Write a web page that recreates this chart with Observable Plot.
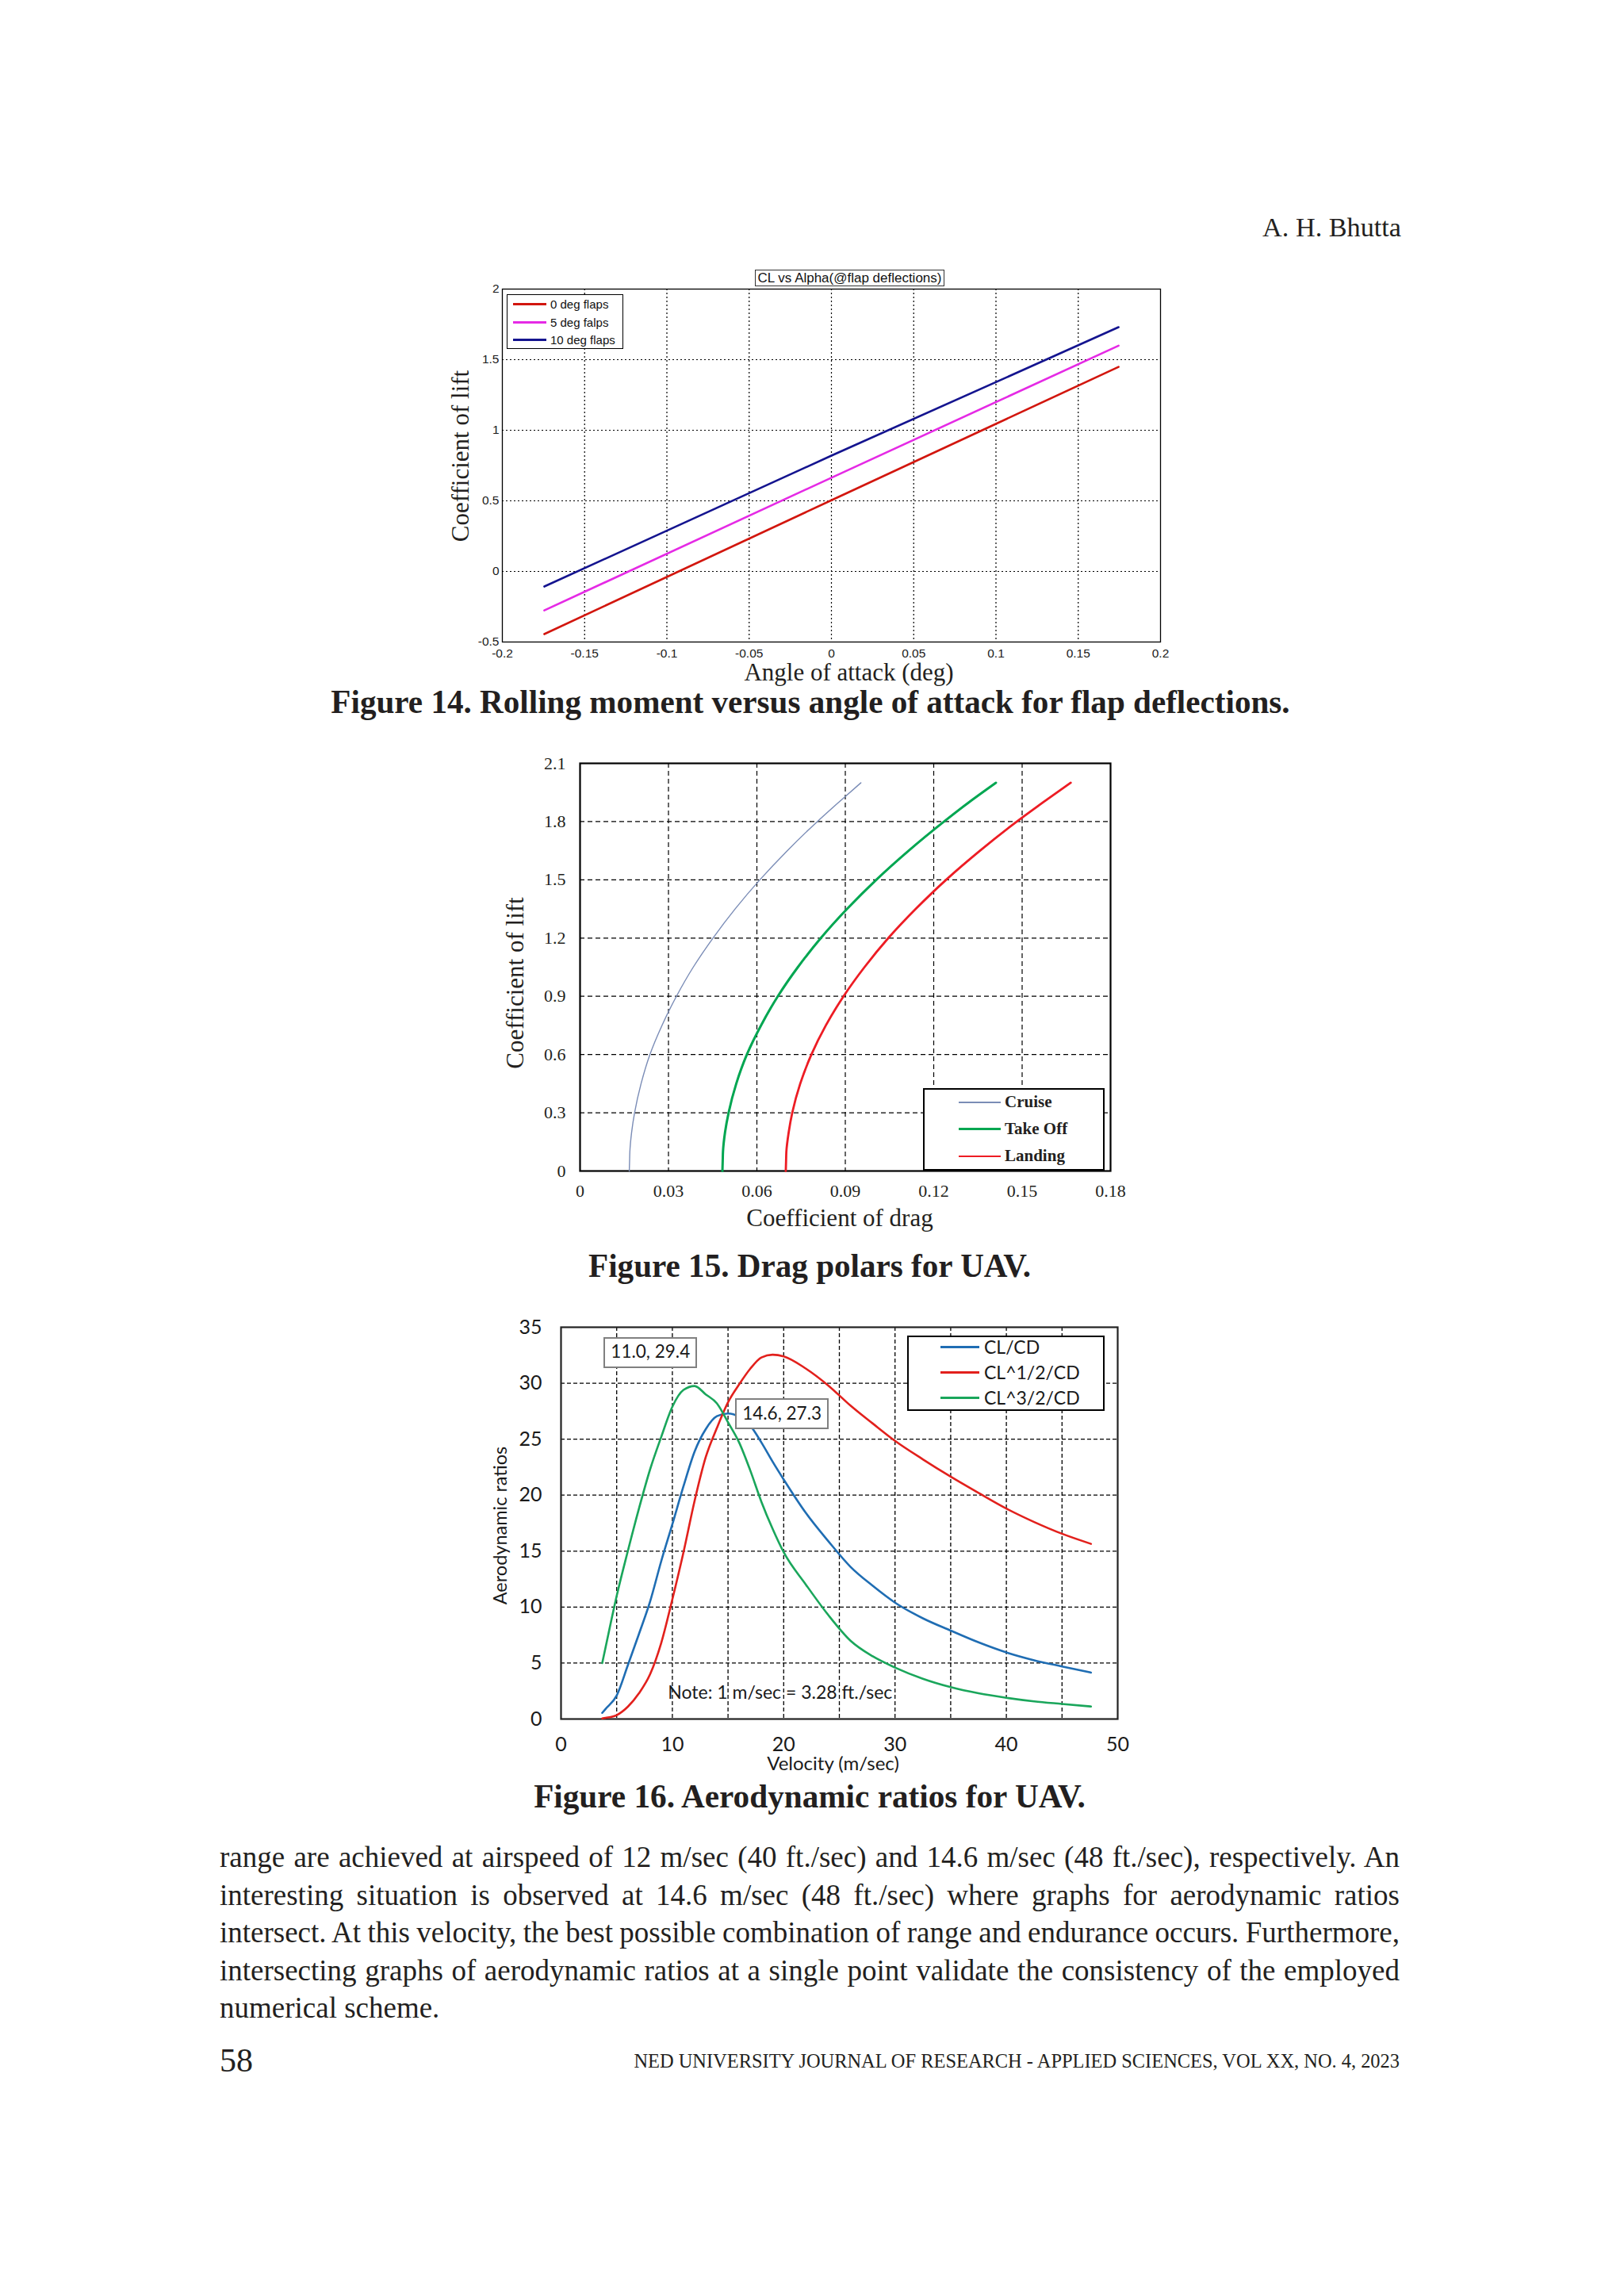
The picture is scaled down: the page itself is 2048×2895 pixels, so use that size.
<!DOCTYPE html>
<html>
<head>
<meta charset="utf-8">
<script src="https://cdn.jsdelivr.net/npm/d3@7"></script>
<script src="https://cdn.jsdelivr.net/npm/@observablehq/plot@0.6"></script>
<style>
html, body { margin: 0; padding: 0; background: #fff; }
#page { position: relative; width: 2048px; height: 2895px; background: #fff; overflow: hidden; }
.abs { position: absolute; white-space: nowrap; line-height: 1; }
.plotbox { position: absolute; }
</style>
</head>
<body>
<div id="page"></div>
<script>
// ================= Figure 14 : CL vs alpha for flap deflections =================
const fig14Series = ["0 deg flaps", "5 deg falps", "10 deg flaps"];
const fig14Colors = ["#d2160e", "#e52ae5", "#14148f"];
const fig14Alpha = [-0.1745, 0, 0.1745];
const fig14CL0 = [-0.444, 0.504, 1.449];
const fig14CL5 = [-0.276, 0.664, 1.599];
const fig14CL10 = [-0.107, 0.820, 1.730];
const fig14XTicks = [-0.2, -0.15, -0.1, -0.05, 0, 0.05, 0.1, 0.15, 0.2];
const fig14YTicks = [-0.5, 0, 0.5, 1, 1.5, 2];
const fig14Title = "CL vs Alpha(@flap deflections)";
const fig14XLabel = "Angle of attack (deg)";
const fig14YLabel = "Coefficient of lift";

// ================= Figure 15 : drag polars =================
const fig15Series = ["Cruise", "Take Off", "Landing"];
const fig15Colors = ["#7a8cb6", "#00a651", "#ed1c24"];
const fig15CL = [0, 0.05, 0.1, 0.2, 0.3, 0.45, 0.6, 0.75, 0.9, 1.05, 1.2, 1.35, 1.5, 1.65, 1.8, 1.9, 2.0];
const fig15CDCruise = [0.0167, 0.0168, 0.0169, 0.0175, 0.0185, 0.0207, 0.0237, 0.0278, 0.0327, 0.0384, 0.0451, 0.0526, 0.0610, 0.0703, 0.0805, 0.0878, 0.0953];
const fig15CDTakeOff = [0.0483, 0.0484, 0.0485, 0.0492, 0.0504, 0.0530, 0.0566, 0.0614, 0.0671, 0.0739, 0.0817, 0.0906, 0.1005, 0.1115, 0.1235, 0.1320, 0.1411];
const fig15CDLanding = [0.0698, 0.0699, 0.0700, 0.0708, 0.0720, 0.0747, 0.0785, 0.0834, 0.0894, 0.0965, 0.1046, 0.1139, 0.1242, 0.1357, 0.1482, 0.1572, 0.1665];
const fig15XTicks = [0, 0.03, 0.06, 0.09, 0.12, 0.15, 0.18];
const fig15YTicks = [0, 0.3, 0.6, 0.9, 1.2, 1.5, 1.8, 2.1];
const fig15XLabel = "Coefficient of drag";
const fig15YLabel = "Coefficient of lift";

// ================= Figure 16 : aerodynamic ratios =================
const fig16Series = ["CL/CD", "CL^1/2/CD", "CL^3/2/CD"];
const fig16Colors = ["#1f6db3", "#e2201c", "#1aa65b"];
const fig16V = [3.7, 4, 5, 6, 7, 8, 9, 10, 11, 12, 13, 14, 15, 16, 17, 18, 19, 20, 22, 24, 26, 28, 30, 32.5, 35, 37.5, 40, 42.5, 45, 47.6];
const fig16ClCd = [0.55, 0.9, 2.1, 4.8, 7.6, 10.5, 14.1, 17.4, 20.8, 23.9, 25.9, 27.05, 27.3, 27.0, 26.2, 24.7, 23.0, 21.4, 18.4, 15.9, 13.6, 11.9, 10.4, 9.0, 7.9, 6.85, 5.95, 5.25, 4.7, 4.15];
const fig16Cl12Cd = [0.05, 0.1, 0.35, 1.1, 2.3, 4.0, 6.8, 10.7, 14.9, 19.5, 23.4, 26.0, 28.3, 29.9, 31.3, 32.3, 32.55, 32.4, 31.3, 29.8, 28.0, 26.4, 24.85, 23.2, 21.65, 20.2, 18.8, 17.6, 16.55, 15.65];
const fig16Cl32Cd = [5.0, 6.4, 11.0, 15.0, 18.8, 22.3, 25.2, 27.9, 29.4, 29.75, 29.0, 28.2, 26.5, 24.7, 22.2, 19.4, 17.0, 14.9, 12.0, 9.3, 7.0, 5.6, 4.6, 3.6, 2.85, 2.3, 1.9, 1.58, 1.35, 1.12];
const fig16XTicks = [0, 10, 20, 30, 40, 50];
const fig16YTicks = [0, 5, 10, 15, 20, 25, 30, 35];
const fig16GridX = [5, 10, 15, 20, 25, 30, 35, 40, 45];
const fig16GridY = [5, 10, 15, 20, 25, 30];
const fig16XLabel = "Velocity (m/sec)";
const fig16YLabel = "Aerodynamic ratios";
const fig16Callouts = ["11.0, 29.4", "14.6, 27.3"];
const fig16CalloutX = [8.07, 19.88];
const fig16CalloutY = [32.72, 27.25];
const fig16Note = ["Note: 1 m/sec = 3.28 ft./sec"];
const fig16NoteX = [9.6];
const fig16NoteY = [2.32];

// ================= Page text =================
const headerText = "A. H. Bhutta";
const caption14 = "Figure 14. Rolling moment versus angle of attack for flap deflections.";
const caption15 = "Figure 15. Drag polars for UAV.";
const caption16 = "Figure 16. Aerodynamic ratios for UAV.";
const bodyLines = [
  "range are achieved at airspeed of 12 m/sec (40 ft./sec) and 14.6 m/sec (48 ft./sec), respectively. An",
  "interesting situation is observed at 14.6 m/sec (48 ft./sec) where graphs for aerodynamic ratios",
  "intersect. At this velocity, the best possible combination of range and endurance occurs. Furthermore,",
  "intersecting graphs of aerodynamic ratios at a single point validate the consistency of the employed",
  "numerical scheme."
];
const pageNumber = "58";
const footerText = "NED UNIVERSITY JOURNAL OF RESEARCH - APPLIED SCIENCES, VOL XX, NO. 4, 2023";

// ---------------------------------------------------------------------
const SERIF = '"Liberation Serif", "Times New Roman", serif';
const SANS = '"Liberation Sans", Arial, sans-serif';
const CAL = 'Lato, "Open Sans", sans-serif';
const INK = "#231f20";
const page = document.getElementById("page");

function addText(txt, o) {
  const el = document.createElement("div");
  el.className = "abs";
  el.textContent = txt;
  el.style.fontFamily = o.font;
  el.style.fontSize = o.size + "px";
  el.style.fontWeight = o.weight || "normal";
  el.style.color = o.color || INK;
  page.appendChild(el);
  let w = el.getBoundingClientRect().width;
  let size = o.size;
  if (o.w) {
    size = o.size * o.w / w;
    el.style.fontSize = size + "px";
    w = el.getBoundingClientRect().width;
  }
  const left = o.left !== undefined ? o.left : (o.right !== undefined ? o.right - w : o.cx - w / 2);
  el.style.left = left + "px";
  el.style.top = (o.cy - (o.k !== undefined ? o.k : 0.5065) * size) + "px";
  return el;
}

function addBox(x1, y1, x2, y2, border, color) {
  const b = document.createElement("div");
  b.style.cssText = `position:absolute;left:${x1}px;top:${y1}px;width:${x2 - x1}px;height:${y2 - y1}px;border:${border}px solid ${color};background:#fff;box-sizing:border-box;`;
  page.appendChild(b);
  return b;
}

function addLegend(o) {
  addBox(o.box[0], o.box[1], o.box[2], o.box[3], o.border, "#000");
  o.labels.forEach((lab, i) => {
    const ln = document.createElement("div");
    ln.style.cssText = `position:absolute;left:${o.lineX[0]}px;width:${o.lineX[1] - o.lineX[0]}px;top:${o.ys[i] - o.lw[i] / 2}px;height:${o.lw[i]}px;background:${o.colors[i]};`;
    page.appendChild(ln);
    addText(lab, {font: o.font, size: o.size, weight: o.weight, left: o.textX, cy: o.ys[i], k: o.k, color: o.color});
  });
}

function mount(svg, left, top, width) {
  const d = document.createElement("div");
  d.className = "plotbox";
  d.style.left = left + "px";
  d.style.top = top + "px";
  d.style.width = width + "px";
  d.appendChild(svg);
  page.appendChild(d);
}

const axisLabel = (txt, o) => Plot.text([txt], {text: d => d, textAnchor: "middle", lineAnchor: "middle", ...o});

// ---------------- Figure 14 plot ----------------
const fig14Values = [fig14CL0, fig14CL5, fig14CL10];
const fig14Data = fig14Series.flatMap((s, i) => fig14Alpha.map((a, j) => ({series: s, alpha: a, cl: fig14Values[i][j]})));
const p14 = Plot.plot({
  width: 930, height: 540,
  marginLeft: 83, marginRight: 17, marginTop: 34, marginBottom: 61,
  x: {domain: [-0.2, 0.2]},
  y: {domain: [-0.5, 2]},
  color: {domain: fig14Series, range: fig14Colors},
  style: {fontFamily: SANS, color: "#1a1a1a", background: "transparent"},
  marks: [
    Plot.gridX(fig14XTicks.slice(1, -1), {stroke: "#000", strokeOpacity: 1, strokeWidth: 1.2, strokeDasharray: "2,3"}),
    Plot.gridY(fig14YTicks.slice(1, -1), {stroke: "#000", strokeOpacity: 1, strokeWidth: 1.2, strokeDasharray: "2,3"}),
    Plot.frame({stroke: "#000", strokeWidth: 1.3}),
    Plot.line(fig14Data, {x: "alpha", y: "cl", z: "series", stroke: "series", strokeWidth: 2.6}),
    Plot.axisX(fig14XTicks, {tickSize: 0, tickPadding: 8, fontSize: 15.5, tickFormat: d => String(d), label: null}),
    Plot.axisY(fig14YTicks, {tickSize: 0, tickPadding: 4, fontSize: 15.5, tickFormat: d => String(d), label: null}),
    axisLabel(fig14XLabel, {frameAnchor: "bottom", dy: 39, dx: 22, fontSize: 31, fontFamily: SERIF, fill: INK}),
    axisLabel(fig14YLabel, {frameAnchor: "left", dx: -52, dy: -12, rotate: -90, fontSize: 31, fontFamily: SERIF, fill: INK})
  ]
});
mount(p14, 550, 330, 930);

// ---------------- Figure 15 plot ----------------
const fig15Values = [fig15CDCruise, fig15CDTakeOff, fig15CDLanding];
const fig15Widths = [1.4, 3, 2.8];
const p15 = Plot.plot({
  width: 800, height: 640,
  marginLeft: 111, marginRight: 20, marginTop: 42, marginBottom: 84,
  x: {domain: [0, 0.18]},
  y: {domain: [0, 2.1]},
  style: {fontFamily: SERIF, color: INK, background: "transparent"},
  marks: [
    Plot.gridX(fig15XTicks.slice(1, -1), {stroke: "#000", strokeOpacity: 1, strokeWidth: 1.2, strokeDasharray: "6,4"}),
    Plot.gridY(fig15YTicks.slice(1, -1), {stroke: "#000", strokeOpacity: 1, strokeWidth: 1.2, strokeDasharray: "6,4"}),
    Plot.frame({stroke: "#000", strokeWidth: 2.2}),
    ...fig15Series.map((s, i) => Plot.line(fig15CL.map((cl, j) => ({cl, cd: fig15Values[i][j]})), {
      x: "cd", y: "cl", stroke: fig15Colors[i], strokeWidth: fig15Widths[i], curve: "monotone-y"
    })),
    Plot.axisX(fig15XTicks, {tickSize: 0, tickPadding: 17, fontSize: 22, tickFormat: d => String(d), label: null}),
    Plot.axisY(fig15YTicks, {tickSize: 0, tickPadding: 18, fontSize: 22, tickFormat: d => String(d), label: null}),
    axisLabel(fig15XLabel, {frameAnchor: "bottom", dy: 60, dx: -7, fontSize: 31, fontFamily: SERIF, fill: INK}),
    axisLabel(fig15YLabel, {frameAnchor: "left", dx: -81, dy: 20, rotate: -90, fontSize: 31, fontFamily: SERIF, fill: INK})
  ]
});
mount(p15, 620, 920, 800);

// ---------------- Figure 16 plot ----------------
const fig16Values = [fig16ClCd, fig16Cl12Cd, fig16Cl32Cd];
const p16 = Plot.plot({
  width: 830, height: 600,
  marginLeft: 107, marginRight: 21, marginTop: 33, marginBottom: 73,
  x: {domain: [0, 50]},
  y: {domain: [0, 35]},
  style: {fontFamily: CAL, color: "#1a1a1a", background: "transparent"},
  marks: [
    Plot.gridX(fig16GridX, {stroke: "#000", strokeOpacity: 1, strokeWidth: 1.3, strokeDasharray: "5,3"}),
    Plot.gridY(fig16GridY, {stroke: "#000", strokeOpacity: 1, strokeWidth: 1.3, strokeDasharray: "5,3"}),
    Plot.frame({stroke: "#222", strokeWidth: 2.2}),
    ...fig16Series.map((s, i) => Plot.line(fig16V.map((v, j) => ({v, r: fig16Values[i][j]})), {
      x: "v", y: "r", stroke: fig16Colors[i], strokeWidth: 2.6, curve: "monotone-x"
    })),
    Plot.text(fig16Note, {text: d => d, x: (d, i) => fig16NoteX[i], y: (d, i) => fig16NoteY[i], textAnchor: "start", fontSize: 23, fontFamily: CAL, fill: "#1a1a1a"}),
    Plot.axisX(fig16XTicks, {tickSize: 0, tickPadding: 23, fontSize: 25, tickFormat: d => String(d), label: null}),
    Plot.axisY(fig16YTicks, {tickSize: 0, tickPadding: 24, fontSize: 25, tickFormat: d => String(d), label: null}),
    axisLabel(fig16XLabel, {frameAnchor: "bottom", dy: 57, dx: -8, fontSize: 24, fontFamily: CAL, fill: "#1a1a1a"}),
    axisLabel(fig16YLabel, {frameAnchor: "left", dx: -76, dy: 3, rotate: -90, fontSize: 23.5, fontFamily: CAL, fill: "#1a1a1a"})
  ]
});
mount(p16, 600, 1640, 830);

// ---------------- Overlays: titles, legends, callouts ----------------
// Figure 14 title box and legend
addBox(952, 340, 1191, 361, 1, "#333");
addText(fig14Title, {font: SANS, size: 16, w: 232, cx: 1071.5, cy: 350.5, k: 0.4885, color: "#111"});
addLegend({
  box: [639, 371, 786, 440], border: 1,
  labels: fig14Series, colors: fig14Colors, lw: [2.2, 2.2, 2.2],
  ys: [383.5, 406.5, 428.5], lineX: [647, 689], textX: 694,
  font: SANS, size: 15, k: 0.4885, color: "#111"
});

// Figure 15 legend
addLegend({
  box: [1164, 1372, 1393, 1476], border: 2,
  labels: fig15Series, colors: fig15Colors, lw: [1.4, 3, 2.8],
  ys: [1390, 1423.5, 1458], lineX: [1209, 1262], textX: 1267,
  font: SERIF, size: 21, weight: "bold", k: 0.5065, color: INK
});

// Figure 16 legend
addLegend({
  box: [1144, 1684, 1393, 1779], border: 2,
  labels: fig16Series, colors: fig16Colors, lw: [2.6, 2.6, 2.6],
  ys: [1698.5, 1730.5, 1762.5], lineX: [1186, 1235], textX: 1241,
  font: CAL, size: 23, k: 0.52, color: "#1a1a1a"
});

// Figure 16 callout boxes placed through the plot's own scales
const sx16 = p16.scale("x"), sy16 = p16.scale("y");
fig16Callouts.forEach((lab, i) => {
  const px = 600 + sx16.apply(fig16CalloutX[i]);
  const py = 1640 + sy16.apply(fig16CalloutY[i]);
  addBox(px - 59, py - 19.5, px + 59, py + 19.5, 2, "#808080");
  addText(lab, {font: CAL, size: 23, w: 100, cx: px, cy: py, k: 0.52, color: "#1a1a1a"});
});

// ---------------- Page text ----------------
addText(headerText, {font: SERIF, size: 34, w: 175, right: 1767, cy: 286.5});
addText(caption14, {font: SERIF, size: 40, weight: "bold", w: 1210, cx: 1022, cy: 886});
addText(caption15, {font: SERIF, size: 40, weight: "bold", w: 558, cx: 1021, cy: 1597});
addText(caption16, {font: SERIF, size: 40, weight: "bold", w: 696, cx: 1021, cy: 2266});

const bodyCY = [2346, 2393.5, 2441, 2488.5, 2536];
bodyLines.forEach((line, i) => {
  const el = addText(line, {font: SERIF, size: 37, left: 277, cy: bodyCY[i], k: 0.6135});
  if (i < bodyLines.length - 1) {
    const w = el.getBoundingClientRect().width;
    const spaces = (line.match(/ /g) || []).length;
    el.style.wordSpacing = ((1488 - w) / spaces) + "px";
  }
});

addText(pageNumber, {font: SERIF, size: 40, w: 42, left: 277, cy: 2598});
addText(footerText, {font: SERIF, size: 24, w: 966, right: 1765, cy: 2599});
</script>
</body>
</html>
